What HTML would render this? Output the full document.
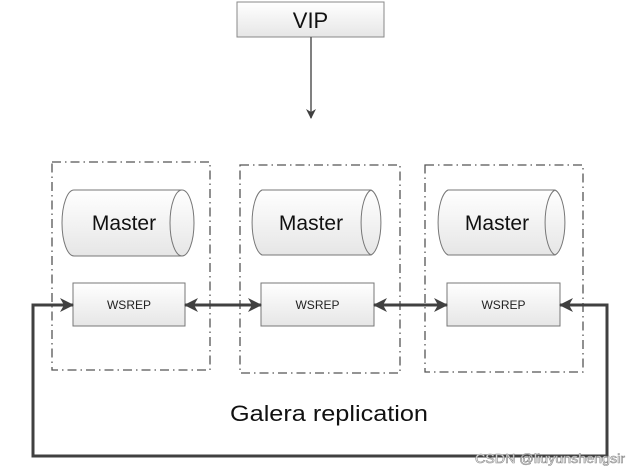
<!DOCTYPE html>
<html><head><meta charset="utf-8"><style>html,body{margin:0;padding:0;background:#fff}svg{display:block}</style></head>
<body>
<svg width="640" height="474" viewBox="0 0 640 474" xmlns="http://www.w3.org/2000/svg" font-family="Liberation Sans, sans-serif">
<defs>
<linearGradient id="g" x1="0" y1="0" x2="0" y2="1"><stop offset="0" stop-color="#ffffff"/><stop offset="1" stop-color="#e6e6e6"/></linearGradient>
<marker id="a" markerWidth="10" markerHeight="10" refX="9" refY="5" orient="auto" markerUnits="userSpaceOnUse"><path d="M0,0 L10,5 L0,10 L3,5 Z" fill="#404040"/></marker>
<marker id="b" markerWidth="14" markerHeight="14" refX="13" refY="7" orient="auto-start-reverse" markerUnits="userSpaceOnUse"><path d="M0,0 L14,7 L0,14 L4,7 Z" fill="#404040"/></marker>
</defs>
<!-- VIP -->
<rect x="237" y="2" width="147" height="35" fill="url(#g)" stroke="#888" stroke-width="1"/>
<text x="310.5" y="28" font-size="22" text-anchor="middle" fill="#111">VIP</text>
<line x1="311" y1="37" x2="311" y2="118" stroke="#555" stroke-width="1.5" marker-end="url(#a)"/>
<!-- dashed boxes -->
<g fill="none" stroke="#555" stroke-width="1.3" stroke-dasharray="9,4,1.5,4">
<rect x="52" y="162" width="158" height="208"/>
<rect x="240" y="165" width="160" height="208"/>
<rect x="425" y="165" width="158" height="207"/>
</g>
<!-- cylinders -->
<g stroke="#777" stroke-width="1" fill="url(#g)">
<path d="M74,190 L182,190 A12,33 0 0 1 182,256 L74,256 A12,33 0 0 1 74,190 Z"/>
<path d="M182,190 A12,33 0 0 0 182,256" fill="none"/>
<path d="M262,190 L371,190 A12,33 0 0 1 371,255 L262,255 A12,33 0 0 1 262,190 Z"/>
<path d="M371,190 A12,33 0 0 0 371,255" fill="none"/>
<path d="M448,190 L555,190 A12,33 0 0 1 555,255 L448,255 A12,33 0 0 1 448,190 Z"/>
<path d="M555,190 A12,33 0 0 0 555,255" fill="none"/>
</g>
<g font-size="21" fill="#111" text-anchor="middle">
<text x="124" y="230">Master</text>
<text x="311" y="230">Master</text>
<text x="497" y="230">Master</text>
</g>
<!-- WSREP -->
<g fill="url(#g)" stroke="#777" stroke-width="1">
<rect x="73" y="283" width="112" height="43"/>
<rect x="261" y="283" width="113" height="43"/>
<rect x="447" y="283" width="113" height="43"/>
</g>
<g font-size="12" fill="#222" text-anchor="middle">
<text x="129" y="309">WSREP</text>
<text x="317.5" y="309">WSREP</text>
<text x="503.5" y="309">WSREP</text>
</g>
<!-- arrows -->
<g stroke="#404040" stroke-width="3" fill="none">
<line x1="185" y1="305" x2="261" y2="305" marker-start="url(#b)" marker-end="url(#b)"/>
<line x1="374" y1="305" x2="447" y2="305" marker-start="url(#b)" marker-end="url(#b)"/>
<polyline points="73,305 33,305 33,456 607,456 607,305 560,305" marker-start="url(#b)" marker-end="url(#b)"/>
</g>
<text x="230" y="421" font-size="22" fill="#111" textLength="198" lengthAdjust="spacingAndGlyphs">Galera replication</text>
<text x="475" y="463" font-size="13" fill="#fff" stroke="#888" stroke-width="0.6" textLength="150" lengthAdjust="spacingAndGlyphs">CSDN @liuyunshengsir</text>
</svg>
</body></html>
